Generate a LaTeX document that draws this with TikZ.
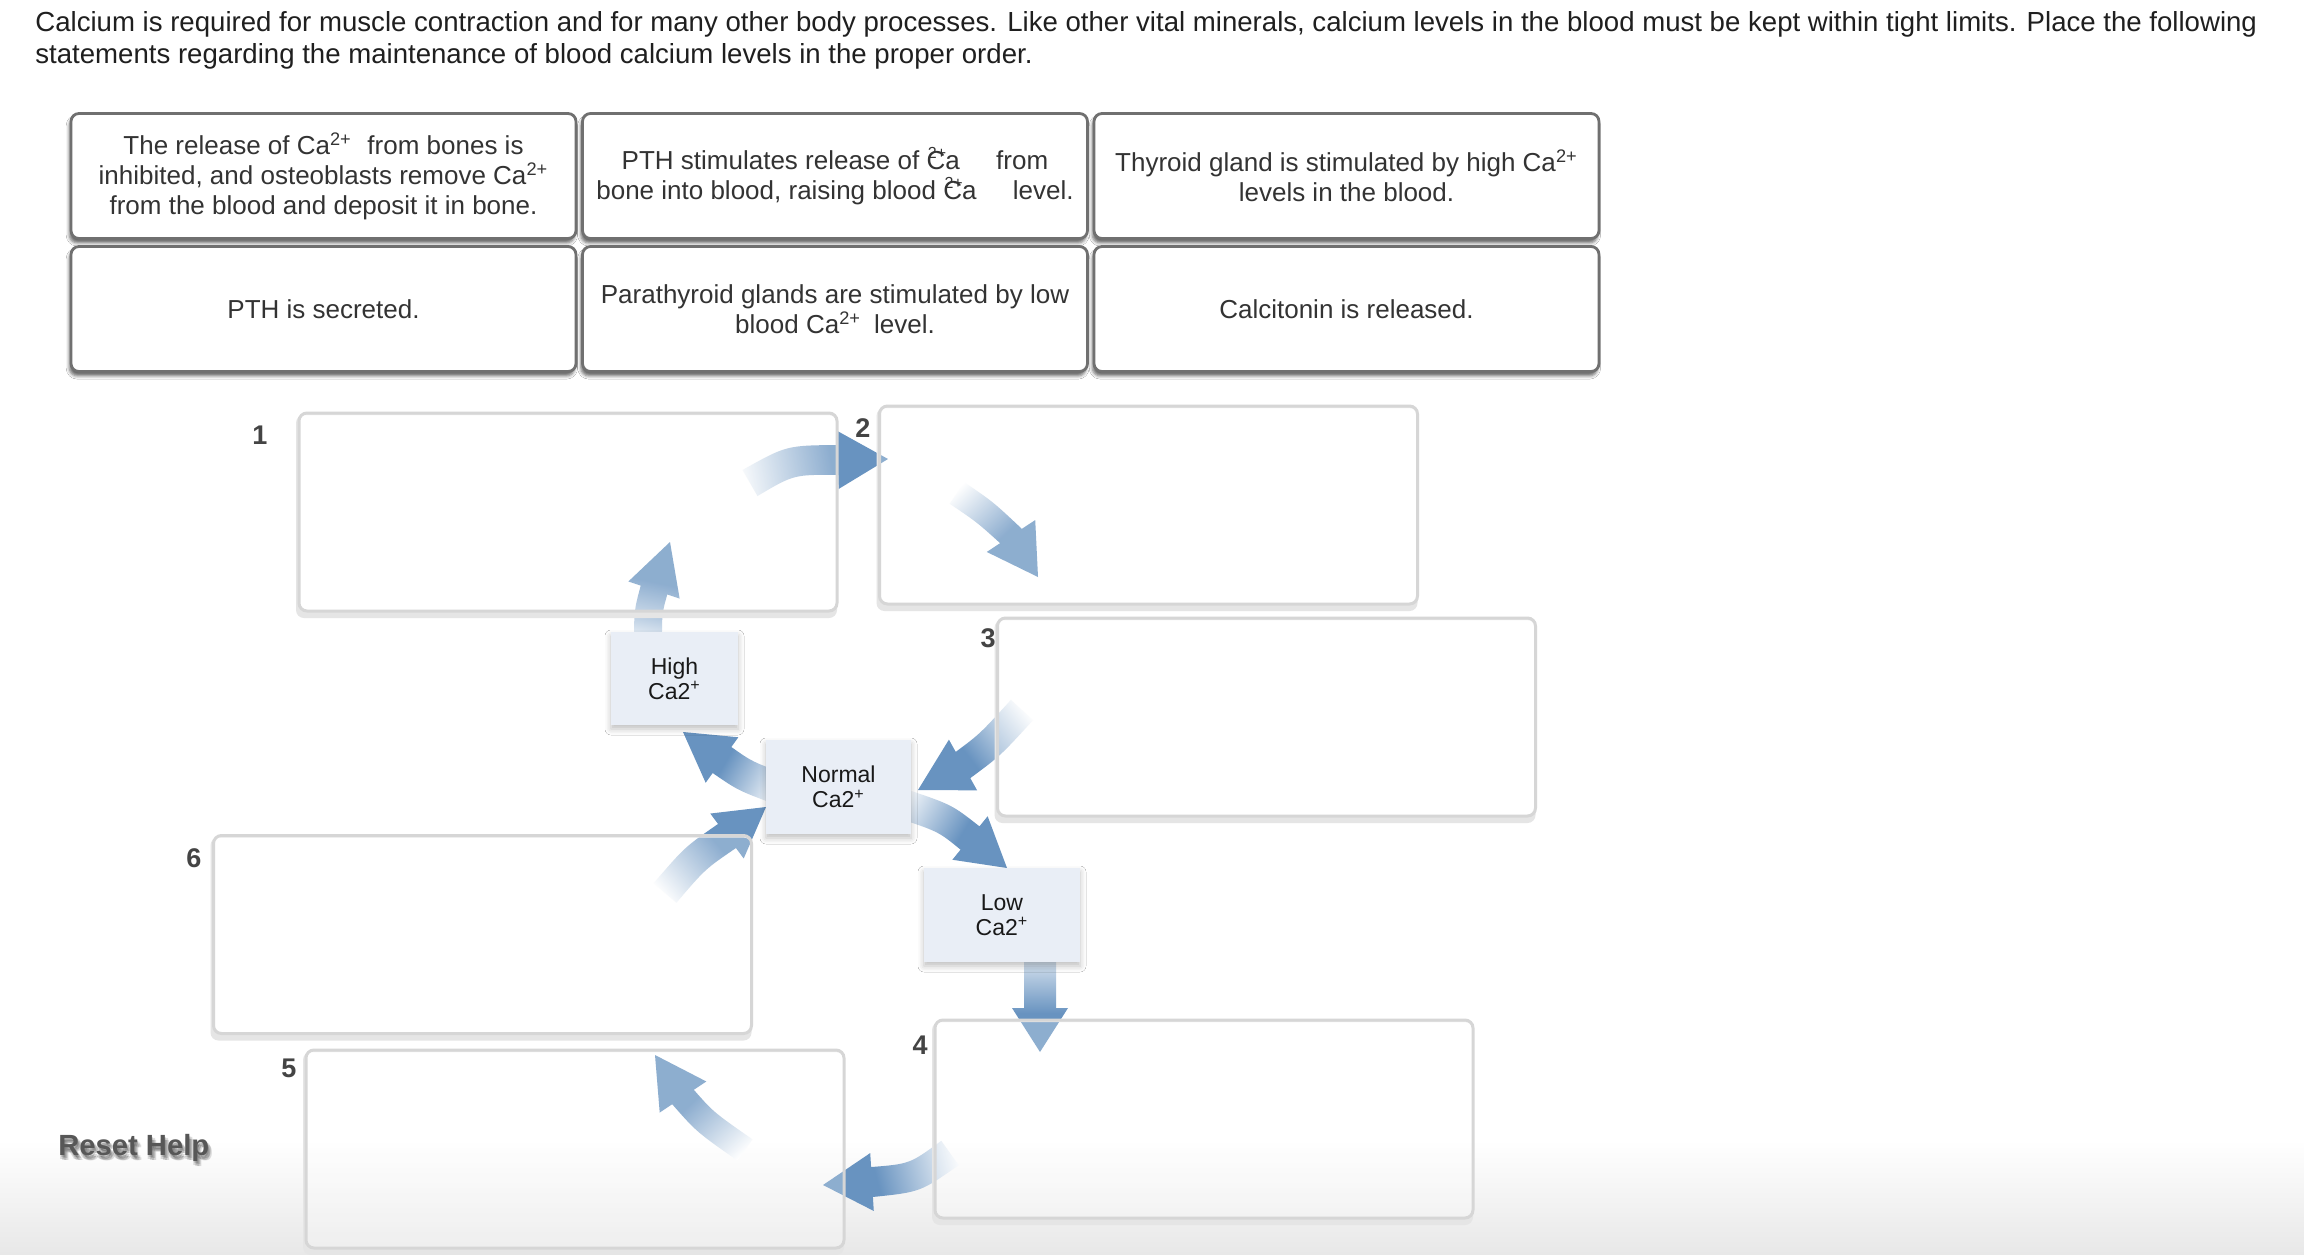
\documentclass[tikz,border=0pt]{standalone}
\usepackage{fontspec}
\setmainfont{Liberation Sans}
\usetikzlibrary{calc,shadows.blur}
\definecolor{arrowblue}{RGB}{104,147,192}
\definecolor{statefill}{RGB}{233,238,246}
\definecolor{cardline}{RGB}{112,112,112}
\definecolor{dropline}{RGB}{214,214,214}
\definecolor{txt}{RGB}{51,51,51}
\definecolor{numcol}{RGB}{68,68,68}
\pgfdeclareverticalshading{arrowshade}{100bp}{color(0bp)=(white); color(20bp)=(white); color(56bp)=(arrowblue); color(100bp)=(arrowblue)}
\newcommand\glitchca{\makebox[0pt][l]{\hspace{0.05em}\raisebox{0.8ex}{\fontsize{8}{8}\selectfont 2+}}Ca}
\newcommand\flowarrow[7]{%
  \coordinate (#1t) at (#2);
  \coordinate (#1c) at (#3);
  \coordinate (#1b) at (#4);
  \coordinate (#1p) at (#5);
  \path let \p1=($(#1p)-(#1t)$) in \pgfextra{\pgfmathsetmacro\arang{atan2(\y1,\x1)-90}\xdef\arrowang{\arang}};
  \coordinate (#1n) at ($(#1t)!#6!90:(#1b)$);
  \coordinate (#1m) at ($(#1t)!#6!-90:(#1b)$);
  \shade[shading=arrowshade, shading angle=\arrowang]
    ($(#1t)!#6!90:(#1c)$) .. controls ($(#1c)+(#1n)-(#1t)$) .. ($(#1b)!#6!90:(#1p)$)
    -- ($(#1b)!#7!90:(#1p)$) -- (#1p) -- ($(#1b)!#7!-90:(#1p)$)
    -- ($(#1b)!#6!-90:(#1p)$) .. controls ($(#1c)+(#1m)-(#1t)$) .. ($(#1t)!#6!-90:(#1c)$) -- cycle;
}
\tikzset{
  card/.style={draw=cardline, line width=1.4pt, rounded corners=4pt, fill=white,
    minimum width=252.5pt, minimum height=62.5pt, align=center, text=txt,
    font=\fontsize{13}{15}\selectfont, inner sep=0pt,
    blur shadow={shadow xshift=-0.8pt, shadow yshift=-2.2pt, shadow blur radius=1.6pt, shadow opacity=60}},
  dropbox/.style={draw=dropline, line width=1.5pt, rounded corners=4pt, fill=white, fill opacity=0.25,
    minimum width=269pt, minimum height=99pt, inner sep=0pt},
  dropshadow/.style={fill=black!10, even odd rule, rounded corners=4pt},
  statebox/.style={fill=statefill, align=center, font=\fontsize{11.5}{12.5}\selectfont, text=black!90,
    inner sep=0pt, blur shadow={shadow xshift=0pt, shadow yshift=-2pt, shadow blur radius=3pt, shadow opacity=25}},
  numlbl/.style={font=\bfseries\fontsize{13.5}{14}\selectfont, text=numcol, inner sep=0pt},
  titletxt/.style={anchor=base west, inner sep=0pt, text=black!88, font=\fontsize{13.8}{16}\selectfont},
  resettxt/.style={anchor=base west, inner sep=0pt, font=\bfseries\fontsize{14.6}{15}\selectfont},
}
\begin{document}
\begin{tikzpicture}[x=0.5pt,y=-0.5pt]
\useasboundingbox (0,0) rectangle (2304,1254);
\fill[white] (0,0) rectangle (2304,1254);
\shade[top color=white, bottom color=black!9] (0,1140) rectangle (2304,1254);

% title
\node[titletxt] (title1) at (35,31) {Calcium is required for muscle contraction and for many other body processes. Like other vital minerals, calcium levels in the blood must be kept within tight limits. Place the following};
\node[titletxt] (title2) at (35,63) {statements regarding the maintenance of blood calcium levels in the proper order.};

% answer cards
\node[card] (c1) at (323.5,176) {The release of Ca\textsuperscript{2+}\hspace{0.6em}from bones is\\inhibited, and osteoblasts remove Ca\textsuperscript{2+}\\from the blood and deposit it in bone.};
\node[card] (c2) at (835,176) {PTH stimulates release of \glitchca\hspace{1.4em}from\\bone into blood, raising blood \glitchca\hspace{1.4em}level.};
\node[card] (c3) at (1346.5,176) {Thyroid gland is stimulated by high Ca\textsuperscript{2+}\\levels in the blood.};
\node[card] (c4) at (323.5,309) {PTH is secreted.};
\node[card] (c5) at (835,309) {Parathyroid glands are stimulated by low\\blood Ca\textsuperscript{2+}\hspace{0.5em}level.};
\node[card] (c6) at (1346.5,309) {Calcitonin is released.};

% arrows
\flowarrow{a}{750,483}{790,460}{838,460}{888,459}{7.5pt}{14.5pt}
\flowarrow{b}{957,493}{985,512}{1011,536}{1038,577}{6.5pt}{14.5pt}
\flowarrow{c}{648,645}{648,612}{654,590}{670,542}{7pt}{13.5pt}
\flowarrow{d}{1022,710}{990,745}{963,765}{918,790}{7.5pt}{14.5pt}
\flowarrow{e}{900,803}{945,818}{970,838}{1007,868}{7.5pt}{14pt}
\flowarrow{f}{1040,950}{1040,985}{1040,1008}{1040,1052}{8pt}{14pt}
\flowarrow{g}{950,1153}{915,1178}{872,1182}{823,1185}{7.5pt}{14.5pt}
\flowarrow{h}{745,1150}{705,1122}{683,1097}{655,1055}{6.5pt}{14pt}
\flowarrow{i}{665,893}{695,858}{727,836}{766,807}{7.5pt}{14pt}
\flowarrow{j}{780,789}{745,776}{722,760}{683,732}{8pt}{14pt}

% drop targets
\foreach \nm/\cx/\cy in {b1/568/512, b2/1148.5/505, b3/1266.5/717, b4/1204/1119, b5/575/1149, b6/482.5/934.5}{
  \fill[dropshadow] (\cx-272,\cy-97) rectangle (\cx+269,\cy+106) (\cx-269,\cy-99) rectangle (\cx+269,\cy+99);
  \node[dropbox] (\nm) at (\cx,\cy) {};
}

% state boxes
\node[statebox, minimum width=63.5pt, minimum height=46.5pt] (high) at (674.5,678.5) {High\\Ca2\textsuperscript{+}};
\node[statebox, minimum width=72.5pt, minimum height=47pt] (normal) at (838.5,787) {Normal\\Ca2\textsuperscript{+}};
\node[statebox, minimum width=78pt, minimum height=47pt] (low) at (1002,915) {Low\\Ca2\textsuperscript{+}};

% numbers
\node[numlbl] (n1) at (260,435) {1};
\node[numlbl] (n2) at (863,428) {2};
\node[numlbl] (n3) at (988,638) {3};
\node[numlbl] (n4) at (920,1045) {4};
\node[numlbl] (n5) at (289,1068) {5};
\node[numlbl] (n6) at (194,858) {6};

% reset help
\foreach \dx/\dy [count=\k] in {1/2, 3/3, 2/5, 4/5, 0/4}{
  \node[resettxt, text=black, text opacity=0.13] (resetsh\k) at (58+\dx,1155+\dy) {Reset Help};
}
\node[resettxt, text=black!66] (reset) at (58,1155) {Reset Help};
\end{tikzpicture}
\end{document}
